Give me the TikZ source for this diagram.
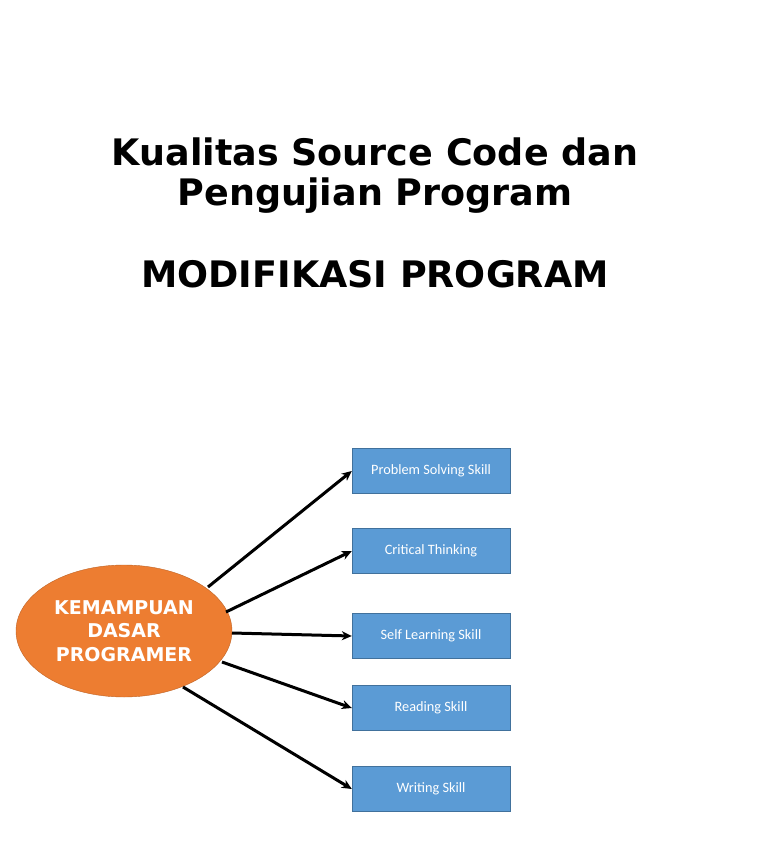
\documentclass[tikz,border=0pt]{standalone}
\usepackage{fontspec}
\setmainfont{DejaVu Sans}
\newfontfamily\boxfont{Carlito}
\usetikzlibrary{shapes.geometric,arrows.meta}
\definecolor{orng}{HTML}{ED7D31}
\definecolor{blu}{HTML}{5B9BD5}
\definecolor{bluedge}{HTML}{41719C}
\begin{document}
\begin{tikzpicture}[x=1pt,y=-1pt,
  skill/.style={draw=bluedge,fill=blu,minimum width=158pt,minimum height=45pt,inner sep=0pt,text=white,font=\boxfont\fontsize{14.3}{16}\selectfont},
  conn/.style={line width=3pt,-{Stealth[length=10pt,width=9pt]}},
  ttl/.style={font=\bfseries\fontsize{36.5}{40}\selectfont,align=center}]
\useasboundingbox (0,0) rectangle (768,866);
\node[ttl] (t1) at (375,176) {Kualitas Source Code dan\\Pengujian Program};
\node[ttl] (t2) at (375,274) {MODIFIKASI PROGRAM};
\node[ellipse,draw=orng!80!black,fill=orng,minimum width=216pt,minimum height=132pt,inner sep=0pt,text=white,align=center,font=\bfseries\fontsize{19}{23.5}\selectfont] (e) at (124,631) {KEMAMPUAN\\DASAR\\PROGRAMER};
\node[skill] (b1) at (431,471) {Problem Solving Skill};
\node[skill] (b2) at (431,551) {Critical Thinking};
\node[skill] (b3) at (431,636) {Self Learning Skill};
\node[skill] (b4) at (431,708) {Reading Skill};
\node[skill] (b5) at (431,789) {Writing Skill};
\coordinate (s1) at (208,587);
\coordinate (s2) at (226,612);
\coordinate (s3) at (232,633);
\coordinate (s4) at (222,662);
\coordinate (s5) at (183,687);
\draw[conn] (s1) -- (b1.west);
\draw[conn] (s2) -- (b2.west);
\draw[conn] (s3) -- (b3.west);
\draw[conn] (s4) -- (b4.west);
\draw[conn] (s5) -- (b5.west);
\end{tikzpicture}
\end{document}
